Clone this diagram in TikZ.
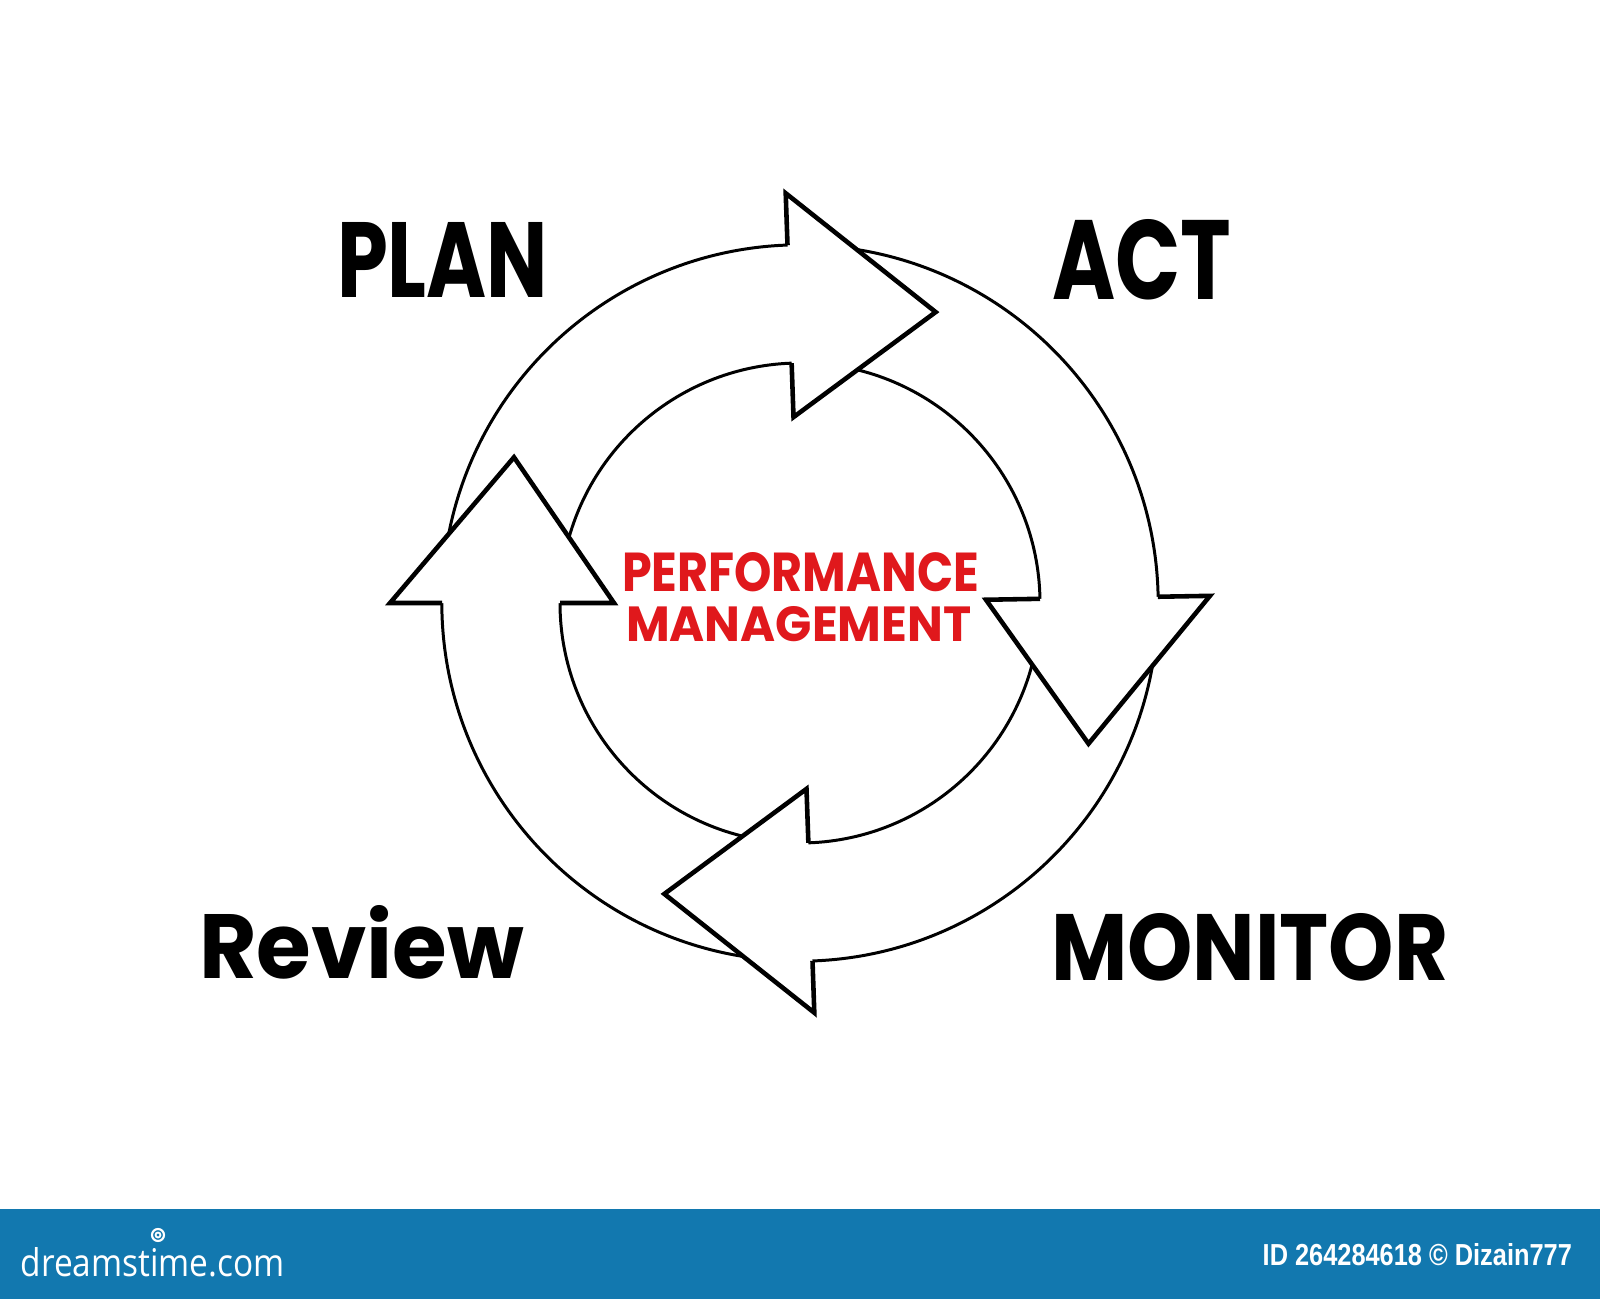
\documentclass[tikz,border=0pt]{standalone}
\usepackage{fontspec}
\setmainfont{Poppins}
\newfontfamily\idfont{Liberation Sans}
\newfontfamily\logofont{Open Sans}
\usepackage{graphicx}
\definecolor{pmred}{RGB}{224,24,28}
\definecolor{barblue}{RGB}{18,120,175}
\begin{document}
\begin{tikzpicture}[x=0.01cm,y=0.01cm,
  bodyline/.style={line width=0.85pt, line cap=round},
  headline/.style={line width=1.3pt, line join=miter, fill=white},
  lbl/.style={inner sep=0pt, outer sep=0pt, anchor=base west, font=\bfseries}]
\useasboundingbox[fill=white] (0,0) rectangle (1600,1299);
\fill[barblue] (0,0) rectangle (1600,90);
% ring of four arrows
\begin{scope}[shift={(800,696)}]
  \foreach \b/\t in {92/172, 1/84, -88/-7, 180/264} {
    \fill[white] (\t:358) arc[start angle=\t, end angle=\b, radius=3.58cm]
      -- (\b:240) arc[start angle=\b, end angle=\t, radius=2.40cm] -- cycle;
    \draw[bodyline] (\t:358) arc[start angle=\t, end angle=\b, radius=3.58cm];
    \draw[bodyline] (\b:240) arc[start angle=\b, end angle=\t, radius=2.40cm];
  }
  \foreach \b in {92, 1, -88, 180} {
    \pgfmathsetmacro\tp{\b-27}
    \filldraw[headline] (\b:358) -- (\b:410) -- (\tp:321) -- (\b:186) -- (\b:240);
  }
\end{scope}
% labels
\node[lbl] (plan) at (337,1001) {\resizebox{2.11cm}{0.75cm}{PLAN}};
\node[lbl] (act) at (1052,999) {\resizebox{1.79cm}{0.80cm}{ACT}};
\node[lbl] (review) at (199,321) {\resizebox{3.25cm}{0.73cm}{Review}};
\node[lbl] (monitor) at (1051,319) {\resizebox{3.97cm}{0.67cm}{MONITOR}};
\node[lbl, text=pmred] (perf) at (622,708) {\resizebox{3.57cm}{0.39cm}{PERFORMANCE}};
\node[lbl, text=pmred] (mgmt) at (626,658) {\resizebox{3.45cm}{0.35cm}{MANAGEMENT}};
% footer bar
\node[inner sep=0pt, anchor=base west, text=white] (logo) at (20,23)
  {\resizebox{2.64cm}{0.29cm}{\logofont dreamstime.com}};
\draw[white, line width=0.6pt] (158,64) circle[radius=0.06cm];
\draw[white, line width=0.5pt] (158,64) circle[radius=0.025cm];
\node[inner sep=0pt, anchor=base west, text=white] (idtext) at (1262,34)
  {\resizebox{3.09cm}{0.22cm}{\idfont\bfseries ID 264284618 © Dizain777}};
\end{tikzpicture}
\end{document}
